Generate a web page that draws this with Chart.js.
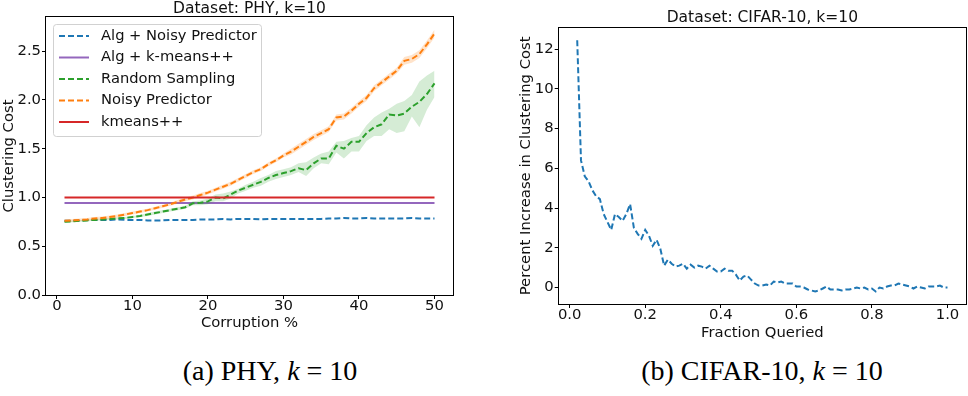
<!DOCTYPE html>
<html>
<head>
<meta charset="utf-8">
<script src="https://cdn.jsdelivr.net/npm/chart.js@4.4.0/dist/chart.umd.min.js"></script>
<style>
  body { margin: 0; background: #fff; width: 968px; height: 396px; overflow: hidden; position: relative; }
  canvas { position: absolute; top: 0; }
  #phy { left: 0; }
  #cifar { left: 484px; }
  .caption { position: absolute; top: 355px; width: 400px; text-align: center;
             font-family: "Liberation Serif", "DejaVu Serif", serif; font-size: 28px; color: #000; white-space: nowrap; }
</style>
</head>
<body>
<canvas id="phy" width="484" height="332"></canvas>
<canvas id="cifar" width="484" height="342"></canvas>
<div class="caption" style="left:70px">(a) PHY, <i>k</i> = 10</div>
<div class="caption" style="left:562px">(b) CIFAR-10, <i>k</i> = 10</div>
<script>
// ---- (a) PHY ----
const corruption = [1, 2, 3, 4, 5, 6, 7, 8, 9, 10, 11, 12, 13, 14, 15, 16, 17, 18, 19, 20,
  21, 22, 23, 24, 25, 26, 27, 28, 29, 30, 31, 32, 33, 34, 35, 36, 37, 38, 39, 40,
  41, 42, 43, 44, 45, 46, 47, 48, 49, 50];

const algNoisy = [0.76, 0.76, 0.765, 0.77, 0.77, 0.77, 0.77, 0.775, 0.77, 0.77,
  0.77, 0.765, 0.765, 0.765, 0.77, 0.77, 0.77, 0.77, 0.775, 0.775,
  0.775, 0.78, 0.775, 0.78, 0.78, 0.78, 0.775, 0.78, 0.78, 0.78,
  0.78, 0.78, 0.78, 0.78, 0.78, 0.785, 0.785, 0.79, 0.785, 0.785,
  0.79, 0.785, 0.785, 0.785, 0.785, 0.785, 0.79, 0.785, 0.785, 0.785];

const flatX = [1, 50];
const algKmeans = [0.944, 0.944];
const kmeansPP = [1.0, 1.0];

const randomSampling = [0.75, 0.755, 0.76, 0.765, 0.77, 0.775, 0.78, 0.785, 0.79, 0.80,
  0.81, 0.825, 0.84, 0.855, 0.87, 0.885, 0.90, 0.94, 0.945, 0.96,
  1.0, 0.99, 1.03, 1.07, 1.10, 1.13, 1.16, 1.20, 1.23, 1.25,
  1.27, 1.30, 1.28, 1.35, 1.40, 1.40, 1.53, 1.50, 1.57, 1.57,
  1.66, 1.72, 1.75, 1.85, 1.84, 1.86, 1.93, 1.98, 2.06, 2.17];
const randomLo = [0.74, 0.745, 0.75, 0.755, 0.76, 0.765, 0.77, 0.775, 0.78, 0.79,
  0.80, 0.81, 0.825, 0.84, 0.855, 0.87, 0.885, 0.92, 0.92, 0.93,
  0.96, 0.96, 0.99, 1.04, 1.07, 1.10, 1.12, 1.16, 1.19, 1.21,
  1.23, 1.26, 1.22, 1.30, 1.35, 1.34, 1.46, 1.40, 1.47, 1.47,
  1.58, 1.63, 1.63, 1.70, 1.66, 1.68, 1.83, 1.72, 1.90, 2.03];
const randomHi = [0.76, 0.765, 0.77, 0.775, 0.78, 0.785, 0.79, 0.795, 0.80, 0.81,
  0.82, 0.84, 0.855, 0.87, 0.885, 0.90, 0.915, 0.96, 0.97, 0.99,
  1.03, 1.04, 1.06, 1.09, 1.13, 1.16, 1.20, 1.23, 1.27, 1.29,
  1.31, 1.35, 1.36, 1.41, 1.45, 1.47, 1.57, 1.58, 1.61, 1.63,
  1.74, 1.82, 1.87, 1.91, 1.96, 1.99, 2.05, 2.19, 2.25, 2.30];

const noisyPred = [0.76, 0.765, 0.77, 0.775, 0.785, 0.79, 0.80, 0.81, 0.825, 0.84,
  0.855, 0.87, 0.89, 0.91, 0.93, 0.955, 0.98, 1.0, 1.025, 1.05,
  1.08, 1.11, 1.14, 1.18, 1.22, 1.26, 1.29, 1.34, 1.38, 1.43,
  1.47, 1.52, 1.57, 1.62, 1.66, 1.70, 1.82, 1.83, 1.89, 1.96,
  2.02, 2.12, 2.18, 2.24, 2.30, 2.40, 2.42, 2.47, 2.57, 2.68];
const noisyLo = [0.745, 0.75, 0.755, 0.76, 0.77, 0.775, 0.785, 0.795, 0.81, 0.825,
  0.84, 0.855, 0.875, 0.895, 0.915, 0.935, 0.96, 0.98, 1.005, 1.03,
  1.06, 1.09, 1.12, 1.16, 1.20, 1.24, 1.27, 1.32, 1.36, 1.41,
  1.44, 1.49, 1.54, 1.59, 1.63, 1.67, 1.79, 1.80, 1.86, 1.93,
  1.99, 2.09, 2.15, 2.21, 2.27, 2.36, 2.38, 2.43, 2.53, 2.64];
const noisyHi = [0.775, 0.78, 0.785, 0.79, 0.80, 0.805, 0.815, 0.825, 0.84, 0.855,
  0.87, 0.885, 0.905, 0.925, 0.945, 0.975, 1.0, 1.02, 1.045, 1.07,
  1.10, 1.13, 1.16, 1.20, 1.24, 1.28, 1.31, 1.36, 1.40, 1.45,
  1.50, 1.55, 1.60, 1.65, 1.69, 1.73, 1.85, 1.86, 1.92, 1.99,
  2.05, 2.15, 2.21, 2.27, 2.33, 2.44, 2.46, 2.51, 2.61, 2.72];

const phyXTicks = [0, 10, 20, 30, 40, 50];
const phyYTicks = [0, 0.5, 1.0, 1.5, 2.0, 2.5];
const legendOrder = ['Alg + Noisy Predictor', 'Alg + k-means++', 'Random Sampling', 'Noisy Predictor', 'kmeans++'];

// ---- (b) CIFAR-10 ----
const fractionQueried = [0.02, 0.03, 0.04, 0.05, 0.06, 0.07, 0.08, 0.09, 0.10,
  0.11, 0.12, 0.13, 0.14, 0.15, 0.16, 0.17, 0.18, 0.19, 0.20,
  0.21, 0.22, 0.23, 0.24, 0.25, 0.26, 0.27, 0.28, 0.29, 0.30,
  0.31, 0.32, 0.33, 0.34, 0.35, 0.36, 0.37, 0.38, 0.39, 0.40,
  0.41, 0.42, 0.43, 0.44, 0.45, 0.46, 0.47, 0.48, 0.49, 0.50,
  0.51, 0.52, 0.53, 0.54, 0.55, 0.56, 0.57, 0.58, 0.59, 0.60,
  0.61, 0.62, 0.63, 0.64, 0.65, 0.66, 0.67, 0.68, 0.69, 0.70,
  0.71, 0.72, 0.73, 0.74, 0.75, 0.76, 0.77, 0.78, 0.79, 0.80,
  0.81, 0.82, 0.83, 0.84, 0.85, 0.86, 0.87, 0.88, 0.89, 0.90,
  0.91, 0.92, 0.93, 0.94, 0.95, 0.96, 0.97, 0.98, 0.99, 1.00];
const percentIncrease = [12.45, 6.4, 5.6, 5.35, 4.9, 4.6, 4.45, 3.7, 3.3,
  2.9, 3.7, 3.55, 3.35, 3.7, 4.2, 3.0, 2.7, 2.45, 2.9,
  2.6, 2.1, 2.4, 1.95, 1.1, 1.4, 1.2, 1.05, 1.1, 1.2,
  0.95, 1.15, 1.0, 1.1, 1.05, 0.95, 1.1, 0.95, 0.8, 0.8,
  0.95, 0.85, 0.85, 0.65, 0.35, 0.55, 0.6, 0.4, 0.2, 0.1,
  0.1, 0.15, 0.1, 0.3, 0.25, 0.3, 0.2, 0.2, 0.2, 0.05,
  0.05, 0.0, -0.1, -0.15, -0.2, -0.15, -0.05, 0.05, -0.1, -0.1,
  -0.1, -0.15, -0.1, -0.1, -0.05, 0.0, -0.05, 0.0, -0.1, -0.05,
  -0.2, 0.0, -0.05, 0.05, 0.1, 0.1, 0.2, 0.15, 0.1, 0.05,
  -0.05, 0.05, 0.0, -0.05, 0.05, 0.05, 0.05, 0.1, 0.0, 0.0];
const cifarXTicks = [0, 0.2, 0.4, 0.6, 0.8, 1.0];
const cifarYTicks = [0, 2, 4, 6, 8, 10, 12];

const FAMILY = "'DejaVu Sans', sans-serif";
const FONT = { family: FAMILY, size: 14.8 };
const TEXT = '#111';
const pts = (xs, ys) => xs.map((x, i) => ({ x: x, y: ys[i] }));

const framePlugin = {
  id: 'frame',
  afterDraw(chart) {
    const { left, top, right, bottom } = chart.chartArea;
    const ctx = chart.ctx;
    ctx.save();
    ctx.strokeStyle = '#000';
    ctx.lineWidth = 1;
    ctx.strokeRect(Math.round(left) - 0.5, Math.round(top) - 0.5, Math.round(right - left) + 1, Math.round(bottom - top) + 1);
    ctx.restore();
  }
};

// matplotlib-style title, centred over the axes box rather than the canvas
const axesTitlePlugin = {
  id: 'axesTitle',
  afterDraw(chart, args, opts) {
    const { left, right, top } = chart.chartArea;
    const ctx = chart.ctx;
    ctx.save();
    ctx.fillStyle = TEXT;
    ctx.font = "15.5px " + FAMILY;
    ctx.textAlign = 'center';
    ctx.textBaseline = 'middle';
    ctx.fillText(opts.text, (left + right) / 2, top - opts.gap);
    ctx.restore();
  }
};

const legendPlugin = {
  id: 'boxLegend',
  afterDatasetsDraw(chart) {
    const ctx = chart.ctx;
    const x0 = chart.chartArea.left + 7, y0 = chart.chartArea.top + 7;
    ctx.save();
    ctx.beginPath();
    ctx.roundRect(x0 + 0.5, y0 + 0.5, 208, 112, 3);
    ctx.fillStyle = 'rgba(255,255,255,0.8)';
    ctx.fill();
    ctx.strokeStyle = 'rgba(204,204,204,0.9)';
    ctx.lineWidth = 1;
    ctx.stroke();
    legendOrder.forEach((label, i) => {
      const ds = chart.data.datasets.find(d => d.label === label);
      const y = y0 + 12 + i * 21.5;
      ctx.beginPath();
      ctx.setLineDash(ds.borderDash || []);
      ctx.strokeStyle = ds.borderColor;
      ctx.lineWidth = ds.borderWidth;
      ctx.moveTo(x0 + 6, y);
      ctx.lineTo(x0 + 36, y);
      ctx.stroke();
      ctx.setLineDash([]);
      ctx.fillStyle = TEXT;
      ctx.font = "14.7px 'DejaVu Sans'";
      ctx.textBaseline = 'middle';
      ctx.fillText(label, x0 + 48, y);
    });
    ctx.restore();
  }
};

const lineDs = (label, data, color, dash) => ({
  label: label, data: data, borderColor: color, borderWidth: 2, borderDash: dash,
  pointRadius: 0, fill: false, tension: 0
});
const bandDs = (label, data, fill, color) => ({
  label: label, data: data, borderColor: 'transparent', borderWidth: 0, pointRadius: 0,
  fill: fill, backgroundColor: color, tension: 0
});

const axisBase = (ticks, fmt, pad) => ({
  type: 'linear',
  afterBuildTicks: s => { s.ticks = ticks.map(v => ({ value: v })); },
  grid: { display: true, drawOnChartArea: false, color: '#000', tickLength: 4, lineWidth: 1 },
  border: { display: false },
  ticks: { font: FONT, color: TEXT, padding: pad, maxRotation: 0, autoSkip: false, callback: fmt }
});

new Chart(document.getElementById('phy'), {
  type: 'line',
  data: {
    datasets: [
      lineDs('kmeans++', pts(flatX, kmeansPP), '#d62728', []),
      lineDs('Noisy Predictor', pts(corruption, noisyPred), '#ff7f0e', [6, 3]),
      bandDs('noisy hi', pts(corruption, noisyHi), 3, 'rgba(255,127,14,0.22)'),
      bandDs('noisy lo', pts(corruption, noisyLo), false, 'transparent'),
      lineDs('Random Sampling', pts(corruption, randomSampling), '#2ca02c', [6, 3]),
      bandDs('random hi', pts(corruption, randomHi), 6, 'rgba(44,160,44,0.2)'),
      bandDs('random lo', pts(corruption, randomLo), false, 'transparent'),
      lineDs('Alg + k-means++', pts(flatX, algKmeans), '#9467bd', []),
      lineDs('Alg + Noisy Predictor', pts(corruption, algNoisy), '#1f77b4', [6, 3])
    ]
  },
  options: {
    responsive: false,
    animation: false,
    layout: { padding: { left: 0, right: 31, top: 17, bottom: 0 } },
    plugins: {
      legend: { display: false },
      tooltip: { enabled: false },
      title: { display: false },
      axesTitle: { text: 'Dataset: PHY, k=10', gap: 8.4 }
    },
    scales: {
      x: Object.assign(axisBase(phyXTicks, v => String(v), -2), {
        min: -1.45, max: 52.45,
        title: { display: true, text: 'Corruption %', font: FONT, color: TEXT, padding: 0 },
        afterFit: s => { s.height = 37; }
      }),
      y: Object.assign(axisBase(phyYTicks, v => v.toFixed(1), 1), {
        min: 0, max: 2.85,
        title: { display: true, text: 'Clustering Cost', font: FONT, color: TEXT, padding: 0 },
        afterFit: s => { s.width = 46; }
      })
    }
  },
  plugins: [framePlugin, legendPlugin, axesTitlePlugin]
});

new Chart(document.getElementById('cifar'), {
  type: 'line',
  data: {
    datasets: [
      lineDs('Percent Increase', pts(fractionQueried, percentIncrease), '#1f77b4', [6, 3])
    ]
  },
  options: {
    responsive: false,
    animation: false,
    layout: { padding: { left: 33, right: 2, top: 27.7, bottom: 0 } },
    plugins: {
      legend: { display: false },
      tooltip: { enabled: false },
      title: { display: false },
      axesTitle: { text: 'Dataset: CIFAR-10, k=10', gap: 9.4 }
    },
    scales: {
      x: Object.assign(axisBase(cifarXTicks, v => v.toFixed(1), -2), {
        min: -0.029, max: 1.049,
        title: { display: true, text: 'Fraction Queried', font: FONT, color: TEXT, padding: 0 },
        afterFit: s => { s.height = 38; }
      }),
      y: Object.assign(axisBase(cifarYTicks, v => String(v), 1), {
        min: -0.83, max: 13.08,
        title: { display: true, text: 'Percent Increase in Clustering Cost', font: FONT, color: TEXT, padding: 0 },
        afterFit: s => { s.width = 41.7; }
      })
    }
  },
  plugins: [framePlugin, axesTitlePlugin]
});
</script>
</body>
</html>
